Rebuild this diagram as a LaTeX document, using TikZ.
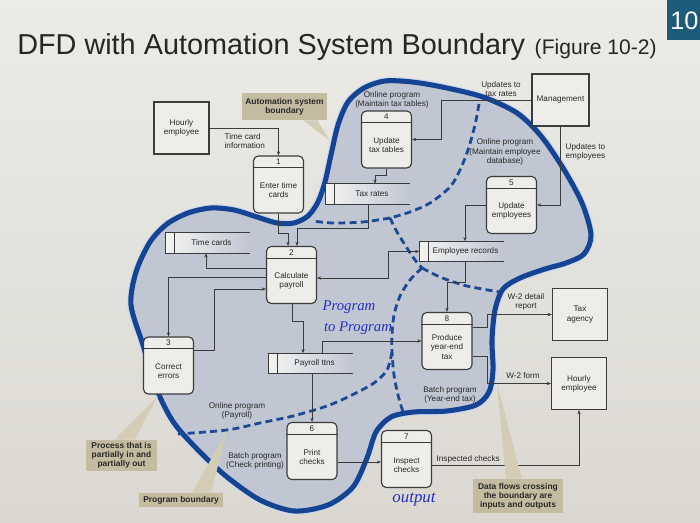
\documentclass[tikz,border=0pt]{standalone}
\usepackage{fontspec}
\setmainfont{Liberation Sans}
\newfontfamily\handfont{Liberation Serif}
\usetikzlibrary{calc,arrows.meta}

\definecolor{bgtop}{RGB}{236,235,230}
\definecolor{bgbot}{RGB}{218,216,209}
\definecolor{blobfill}{RGB}{192,199,210}
\definecolor{blobline}{RGB}{22,68,148}
\definecolor{halo}{RGB}{205,218,236}
\definecolor{dashblue}{RGB}{30,74,148}
\definecolor{boxfill}{RGB}{238,237,233}
\definecolor{storefill}{RGB}{243,243,241}
\definecolor{linegray}{RGB}{60,60,60}
\definecolor{inkgray}{RGB}{40,40,40}
\definecolor{notetan}{RGB}{196,188,160}
\definecolor{tailtan}{RGB}{212,205,182}
\definecolor{badge}{RGB}{28,92,120}
\definecolor{pen}{RGB}{38,48,190}

\newcommand{\pu}{0.025cm}
\newcommand{\diag}{\fontsize{5.8}{6.5}\selectfont}
\newcommand{\notefont}{\bfseries\fontsize{6}{6.5}\selectfont}

\tikzset{
  entity/.style={draw=linegray, line width=0.8pt, fill=boxfill, minimum width=55*\pu, minimum height=52*\pu, align=center, font=\diag, text=inkgray},
  procbox/.style={draw=linegray, line width=0.8pt, fill=boxfill, rounded corners=1.2mm, minimum width=50*\pu, minimum height=57*\pu},
  procline/.style={draw=linegray, line width=0.6pt},
  storebox/.style={left color=storefill, middle color=storefill, right color=blobfill, minimum width=84*\pu, minimum height=20*\pu, font=\diag, text=inkgray},
  storeline/.style={draw=linegray, line width=0.6pt},
  flow/.style={draw=linegray, line width=0.45pt, -{Stealth[length=3pt,width=2.4pt]}},
  txt/.style={font=\diag, text=inkgray, inner sep=1pt},
  note/.style={fill=notetan, font=\notefont, text=inkgray, align=center, inner sep=1pt},
  tail/.style={fill=tailtan},
  boundary/.style={fill=blobfill, draw=blobline, line width=3.6pt, preaction={draw=halo, line width=5.4pt}},
  progline/.style={draw=dashblue, line width=2pt, dash pattern=on 5pt off 3pt},
  hand/.style={text=pen, font=\handfont\itshape\fontsize{10.5}{12}\selectfont, inner sep=0pt}
}

% process: name, position, number, text
\newcommand{\dproc}[4]{%
  \node[procbox] (#1) at (#2) {};
  \draw[procline] ($(#1.north west)+(0,12)$) -- ($(#1.north east)+(0,12)$);
  \node[txt] (#1n) at ($(#1.north)+(0,6.5)$) {#3};
  \node[txt, align=center] (#1t) at ($(#1.center)+(0,6)$) {#4};}
% data store: name, position, text
\newcommand{\dstore}[3]{%
  \node[storebox] (#1) at (#2) {\hspace*{0.2cm}#3};
  \draw[storeline] (#1.north east) -- (#1.north west) -- (#1.south west) -- (#1.south east);
  \draw[storeline] ($(#1.north west)+(9,0)$) -- ($(#1.south west)+(9,0)$);}

\begin{document}
\begin{tikzpicture}[x=0.025cm, y=-0.025cm]
\useasboundingbox (0,0) rectangle (700,523);
\shade[top color=bgtop, bottom color=bgbot] (0,0) rectangle (700,523);
\fill[badge] (667,0) rectangle (700,40);
\node[anchor=base west, inner sep=0, text=white, font=\fontsize{18}{18}\selectfont] (pgno) at (670,30) {10};

% title
\node[anchor=base west, inner sep=0, text=black!85, font=\fontsize{20.5}{24}\selectfont] (title) at (17,55) {DFD with Automation System Boundary};
\node[anchor=base west, inner sep=0, text=black!85, font=\fontsize{15}{18}\selectfont] (fig) at ($(title.base east)+(9,0)$) {(Figure 10-2)};

% automation system boundary
\path[boundary] plot[smooth cycle] coordinates {(131,305) (136,272) (150,242) (167,224) (188,213) (211,208) (234,210) (257,217) (277,223) (294,223) (308,216) (318,202) (325,182) (331,155) (338,125) (348,102) (364,88) (385,81) (412,82) (442,87) (483,97) (517,113) (541,136) (563,168) (582,203) (591,235) (584,254) (566,263) (545,269) (520,278) (503,289) (495,310) (492,340) (493,370) (489,392) (476,405) (447,411) (414,412) (391,417) (376,432) (367,458) (353,487) (328,505) (294,511) (260,500) (227,477) (200,452) (174,423) (157,390) (143,345)};

% program boundaries
\draw[progline] plot[smooth] coordinates {(479,104) (475,125) (468,150) (460,170) (450,187) (430,203) (410,212) (390,218)};
\draw[progline] plot[smooth] coordinates {(390,218) (363,222) (333,223) (312,221)};
\draw[progline] plot[smooth] coordinates {(390,218) (397,232) (407,248) (415,260) (422,268)};
\draw[progline] plot[smooth] coordinates {(422,268) (440,277) (463,285) (482,289) (500,292)};
\draw[progline] plot[smooth] coordinates {(422,268) (410,280) (400,296) (394,315) (392,335) (392,352) (394,375) (398,395) (403,412)};
\draw[progline] plot[smooth] coordinates {(392,352) (387,370) (374,383) (352,395) (327,406) (293,416) (260,423) (227,430) (178,434)};

% external entities
\node[entity] (he1) at (181.5,128) {Hourly\\employee};
\node[entity] (mgmt) at (560.5,100) {Management};
\node[entity] (tax) at (580,314.5) {Tax\\agency};
\node[entity] (he2) at (579,383.5) {Hourly\\employee};

% processes
\dproc{p1}{278.5,184.5}{1}{Enter time\\cards}
\dproc{p2}{291.5,275}{2}{Calculate\\payroll}
\dproc{p3}{168.5,365.5}{3}{Correct\\errors}
\dproc{p4}{386.5,139.5}{4}{Update\\tax tables}
\dproc{p5}{511.5,205}{5}{Update\\employees}
\dproc{p6}{312,451}{6}{Print\\checks}
\dproc{p7}{406.5,459}{7}{Inspect\\checks}
\dproc{p8}{447,341}{8}{Produce\\year-end\\tax}

% data stores
\dstore{taxrates}{368,194}{Tax rates}
\dstore{timecards}{207.5,243}{Time cards}
\dstore{emprec}{461.5,251.5}{Employee records}
\dstore{payroll}{310.5,363.5}{Payroll ttns}

% data flows
\draw[flow] (he1.east) -| (p1.north);
\draw[flow] (p1.south) -- ++(0,20) -| ($(p2.north)+(-3.5,0)$);
\draw[flow] (taxrates.south) -- ++(0,24) -| ($(p2.north)+(5.5,0)$);
\draw[flow] (mgmt.west) -- ++(-90,0) |- (p4.east);
\draw[flow] (p4.south) -- ++(0,7) -| ($(taxrates.north)+(7,0)$);
\draw[flow] (mgmt.south) |- (p5.east);
\draw[flow] (p5.west) -| ($(emprec.north)+(3.5,0)$);
\draw[flow, {Stealth[length=3pt,width=2.4pt]}-{Stealth[length=3pt,width=2.4pt]}] ($(p2.east)+(0,3)$) -- ++(71,0) |- (emprec.west);
\draw[flow] ($(emprec.south)+(3.5,0)$) -- ++(0,21) -| (p8.north);
\draw[flow] ($(p2.west)+(0,-7)$) -| ($(timecards.south)+(-1.5,0)$);
\draw[flow] ($(p2.west)+(0,2)$) -| (p3.north);
\draw[flow] ($(p3.east)+(0,-15.5)$) -- ++(20,0) |- ($(p2.west)+(0,14)$);
\draw[flow] ($(p2.south)+(0.5,0)$) -- ++(0,17) -| ($(payroll.north)+(-7.5,0)$);
\draw[flow] ($(payroll.north)+(11.5,0)$) |- (p8.west);
\draw[flow] (payroll.south -| p6.north) -- (p6.north);
\draw[flow] ($(p6.east)+(0,11)$) -- ($(p7.west)+(0,3)$);
\draw[flow] ($(p7.east)+(0,6)$) -| (he2.south);
\draw[flow] ($(p8.east)+(0,-14)$) -- ++(15,0) |- (tax.west);
\draw[flow] ($(p8.east)+(0,15)$) -- ++(15,0) |- (he2.west);

% flow labels
\node[txt, align=left, anchor=west] (tcinfo) at (223,141) {Time card\\information};
\node[txt, align=center] (uptax) at (501,89) {Updates to\\tax rates};
\node[txt, align=left, anchor=west] (upemp) at (564,152) {Updates to\\employees};
\node[txt, align=center] (w2det) at (526,302) {W-2 detail\\report};
\node[txt] (w2form) at (523,376) {W-2 form};
\node[txt, anchor=west] (inspck) at (435,459) {Inspected checks};

% program labels
\node[txt, align=center] (rgtax) at (392,100) {Online program\\(Maintain tax tables)};
\node[txt, align=center] (rgemp) at (505,152) {Online program\\(Maintain employee\\database)};
\node[txt, align=center] (rgpay) at (237,411) {Online program\\(Payroll)};
\node[txt, align=center] (rgchk) at (255,461) {Batch program\\(Check printing)};
\node[txt, align=center] (rgyear) at (450,395) {Batch program\\(Year-end tax)};

% callouts
\node[note, minimum width=85*\pu, minimum height=27*\pu] (asb) at (284.5,106.5) {Automation system\\boundary};
\coordinate (asbtip) at (330,141);
\fill[tail] ($(asb.south east)+(-24,0)$) -- ($(asb.south east)+(-10,0)$) -- (asbtip) -- cycle;
\node[note, minimum width=71*\pu, minimum height=31*\pu] (pio) at (121.5,455.5) {Process that is\\partially in and\\partially out};
\coordinate (piotip) at (158,396);
\fill[tail] ($(pio.north)+(-7,0)$) -- ($(pio.north)+(13,0)$) -- (piotip) -- cycle;
\node[note, minimum width=84*\pu, minimum height=14*\pu] (pgb) at (181,500) {Program boundary};
\coordinate (pgbtip) at (227,431);
\fill[tail] ($(pgb.north)+(11,0)$) -- ($(pgb.north)+(30,0)$) -- (pgbtip) -- cycle;
\node[note, minimum width=90*\pu, minimum height=34*\pu] (dfc) at (518,496) {Data flows crossing\\the boundary are\\inputs and outputs};
\coordinate (dfctip) at (497,384);
\fill[tail] ($(dfc.north)+(-12,0)$) -- ($(dfc.north)+(4,0)$) -- (dfctip) -- cycle;

% handwritten notes
\node[hand] (hw1) at (349,307) {Program};
\node[hand] (hw2) at (358,328) {to Program};
\node[hand, font=\handfont\itshape\fontsize{12}{14}\selectfont] (hw3) at (414,500) {output};
\end{tikzpicture}
\end{document}
